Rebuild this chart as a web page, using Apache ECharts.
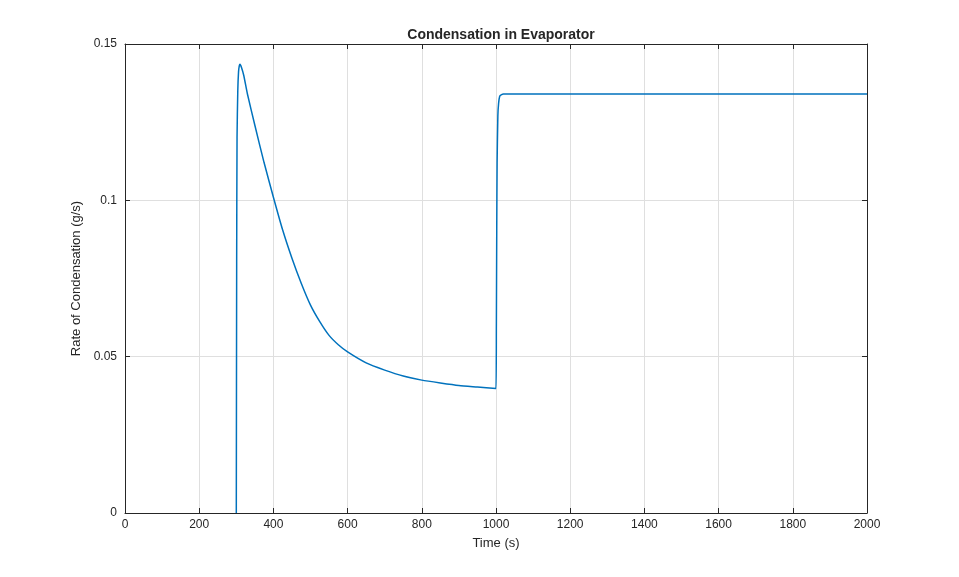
<!DOCTYPE html>
<html>
<head>
<meta charset="utf-8">
<script src="https://cdn.jsdelivr.net/npm/echarts@6/dist/echarts.min.js"></script>
<style>html,body{margin:0;background:#fff}#c{width:959px;height:577px}</style>
</head>
<body>
<div id="c"></div>
<script>
const times = [300, 301, 302, 304, 306, 308, 310, 314, 320, 330, 350, 375, 400, 425, 450, 475, 500, 525, 550, 575, 600, 650, 700, 750, 800, 850, 900, 950, 1000, 1001, 1002, 1003, 1005, 1007, 1010, 1015, 1020, 1500, 2000];
const rates = [0, 0.08, 0.12, 0.135, 0.141, 0.143, 0.1435, 0.1425, 0.140, 0.134, 0.124, 0.112, 0.101, 0.0905, 0.0815, 0.0735, 0.0665, 0.0612, 0.0568, 0.0538, 0.0515, 0.048, 0.0457, 0.0438, 0.0425, 0.0416, 0.0408, 0.0403, 0.0398, 0.06, 0.09, 0.112, 0.127, 0.131, 0.1333, 0.1338, 0.134, 0.134, 0.134];

const chart = echarts.init(document.getElementById("c"));
const font = "Liberation Sans";
const tickCommon = { inside: true, length: 5, lineStyle: { color: "#262626" } };
const lineCommon = { show: true, onZero: false, lineStyle: { color: "#262626", width: 1 } };

chart.setOption({
  animation: false,
  title: {
    text: "Condensation in Evaporator",
    left: 496, top: 23, textAlign: "center",
    textStyle: { fontFamily: font, fontSize: 14, fontWeight: "bold", color: "#262626" }
  },
  grid: { left: 125, right: 92, top: 44, bottom: 64 },
  xAxis: [{
    type: "value", min: 0, max: 2000, interval: 200,
    name: "Time (s)", nameLocation: "middle", nameGap: 24,
    nameTextStyle: { fontFamily: font, fontSize: 13, color: "#262626" },
    axisLine: lineCommon, axisTick: tickCommon,
    axisLabel: { fontFamily: font, fontSize: 12, color: "#262626", margin: 6, formatter: v => String(v) },
    splitLine: { show: true, lineStyle: { color: "#dfdfdf" } }
  }, {
    type: "value", min: 0, max: 2000, interval: 200, position: "top",
    axisLine: lineCommon, axisTick: tickCommon, axisLabel: { show: false }, splitLine: { show: false }
  }],
  yAxis: [{
    type: "value", min: 0, max: 0.15, interval: 0.05,
    name: "Rate of Condensation (g/s)", nameLocation: "middle", nameGap: 37,
    nameTextStyle: { fontFamily: font, fontSize: 13, color: "#262626" },
    axisLine: lineCommon, axisTick: tickCommon,
    axisLabel: { fontFamily: font, fontSize: 12, color: "#262626", margin: 8,
      formatter: v => String(+v.toFixed(2)) },
    splitLine: { show: true, lineStyle: { color: "#dfdfdf" } }
  }, {
    type: "value", min: 0, max: 0.15, interval: 0.05, position: "right",
    axisLine: lineCommon, axisTick: tickCommon, axisLabel: { show: false }, splitLine: { show: false }
  }],
  series: [{
    type: "line",
    data: times.map((t, i) => [t, rates[i]]),
    showSymbol: false,
    smooth: 0.2,
    lineStyle: { color: "#0072bd", width: 1.5 }
  }]
});
</script>
</body>
</html>
